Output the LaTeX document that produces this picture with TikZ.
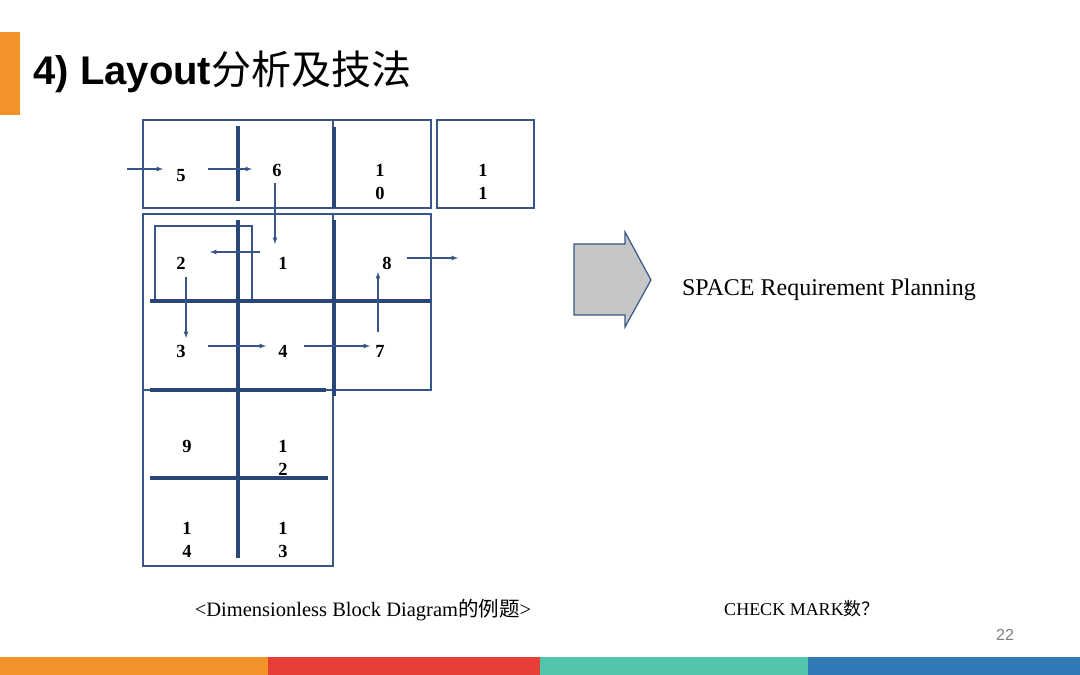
\documentclass[tikz,border=0pt]{standalone}
\usepackage{fontspec}
\setmainfont{Liberation Serif}
\newfontfamily\ttl{Liberation Sans}
\newfontfamily\cjk{Noto Sans CJK SC}
\definecolor{ln}{RGB}{55,85,135}
\definecolor{lnd}{RGB}{40,70,120}
\definecolor{bor}{RGB}{243,146,40}
\definecolor{bre}{RGB}{232,62,58}
\definecolor{bte}{RGB}{82,196,172}
\definecolor{bbl}{RGB}{48,122,182}
\begin{document}
\begin{tikzpicture}[x=1pt,y=-1pt,
  frame/.style={draw=ln, line width=1.1pt},
  wall/.style={draw=lnd, line width=3.2pt},
  arr/.style={draw=ln, line width=1.2pt,-latex},
  num/.style={font=\fontsize{18.5}{20}\selectfont\bfseries, align=center, inner sep=0pt}]
\useasboundingbox (0,0) rectangle (1080,675);
\fill[white] (0,0) rectangle (1080,675);
\fill[bor] (0,32) rectangle (20,115);
\node[anchor=west, font=\fontsize{40}{44}\selectfont] (title) at (30,72) {\ttl\bfseries 4) Layout\mdseries\cjk 分析及技法};
% frames
\draw[frame] (143,120) rectangle (431,208);
\draw[frame] (333,120) -- (333,208);
\draw[frame] (437,120) rectangle (534,208);
\draw[frame] (143,214) rectangle (431,390);
\draw[frame] (155,226) rectangle (252,301);
\draw[frame] (143,390) rectangle (333,566);
\draw[frame] (333,214) -- (333,396);
\draw[wall] (238,126) -- (238,201);
\draw[wall] (334,127) -- (334,208);
\draw[wall] (238,220) -- (238,558);
\draw[wall] (334,220) -- (334,396);
\draw[wall] (150,301) -- (431,301);
\draw[wall] (150,390) -- (326,390);
\draw[wall] (150,478) -- (328,478);
% labels
\node[num] (n5) at (181,176) {5};
\node[num] (n6) at (277,170) {6};
\node[num] (n10) at (380,182) {1\\[3pt]0};
\node[num] (n11) at (483,182) {1\\[3pt]1};
\node[num] (n2) at (181,263) {2};
\node[num] (n1) at (283,263) {1};
\node[num] (n8) at (387,263) {8};
\node[num] (n3) at (181,351) {3};
\node[num] (n4) at (283,351) {4};
\node[num] (n7) at (380,351) {7};
\node[num] (n9) at (187,446) {9};
\node[num] (n12) at (283,458) {1\\[3pt]2};
\node[num] (n14) at (187,540) {1\\[3pt]4};
\node[num] (n13) at (283,540) {1\\[3pt]3};
% arrows
\coordinate (a0) at (127,169); \coordinate (a1) at (163,169);
\coordinate (b0) at (208,169); \coordinate (b1) at (252,169);
\coordinate (c0) at (275,183); \coordinate (c1) at (275,244);
\coordinate (d0) at (260,252); \coordinate (d1) at (210,252);
\coordinate (e0) at (186,277); \coordinate (e1) at (186,338);
\coordinate (f0) at (208,346); \coordinate (f1) at (266,346);
\coordinate (g0) at (304,346); \coordinate (g1) at (370,346);
\coordinate (h0) at (378,332); \coordinate (h1) at (378,272);
\coordinate (i0) at (407,258); \coordinate (i1) at (458,258);
\foreach \p in {a,b,c,d,e,f,g,h,i} \draw[arr] (\p0) -- (\p1);
% big arrow
\draw[fill=gray!45, draw=ln, line width=1.2pt] (574,244) -- (625,244) -- (625,232) -- (651,280) -- (625,327) -- (625,315) -- (574,315) -- cycle;
\node[font=\fontsize{24}{26}\selectfont] (space) at (829,290) {SPACE Requirement Planning};
\node[font=\fontsize{20.5}{22}\selectfont] (cap) at (363,610) {<Dimensionless Block Diagram{\cjk 的例题}>};
\node[font=\fontsize{18}{20}\selectfont] (check) at (802,609) {CHECK MARK{\cjk 数？}};
\node[font=\ttl\fontsize{16}{18}\selectfont, text=gray] (pg) at (1005,635) {22};
\fill[bor] (0,657) rectangle (268,675);
\fill[bre] (268,657) rectangle (540,675);
\fill[bte] (540,657) rectangle (808,675);
\fill[bbl] (808,657) rectangle (1080,675);
\end{tikzpicture}
\end{document}
